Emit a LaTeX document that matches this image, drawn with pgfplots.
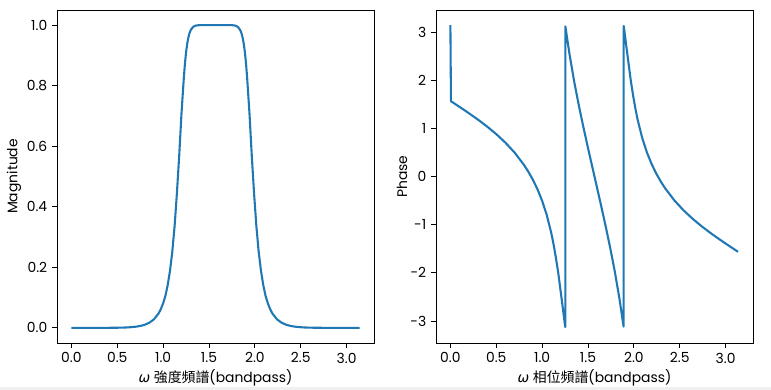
\documentclass[border=0pt]{standalone}
\usepackage{fontspec}
\setmainfont{Poppins}
\newfontfamily\cjk{Noto Sans CJK TC}
\newfontfamily\dvs{DejaVu Sans}
\usepackage{pgfplots}
\pgfplotsset{compat=1.18}
\definecolor{c0}{HTML}{1F77B4}
\begin{document}
\fontsize{10}{12}\selectfont
\begin{tikzpicture}
\pgfplotsset{
  myax/.style={
    scale only axis, width=228.24pt, height=239.76pt, anchor=south west,
    axis line style={black, line width=0.6pt},
    tick align=outside, tick pos=left, major tick length=3.5pt,
    every tick/.style={black, line width=0.6pt},
    /pgf/number format/assume math mode=true,
    xmin=-0.157, xmax=3.299,
    xtick={0,0.5,1,1.5,2,2.5,3},
    x tick label style={/pgf/number format/.cd, fixed, fixed zerofill, precision=1},
    tick label style={font=\fontsize{10}{12}\selectfont},
    label style={font=\fontsize{10}{12}\selectfont},
    xlabel style={at={(axis description cs:0.5,-0.12)}, anchor=base},
  }
}
\useasboundingbox (0,0) rectangle (555.12pt,280.8pt);
\fill[black!6] (0,0) rectangle (555.12pt,2.16pt);
\begin{axis}[myax, at={(41.04pt,33.84pt)},
  ymin=-0.05, ymax=1.05, ytick={0,0.2,0.4,0.6,0.8,1.0},
  y tick label style={/pgf/number format/.cd, fixed, fixed zerofill, precision=1},
  ylabel={Magnitude},
  ylabel style={at={(axis description cs:-0.136,0.5)}, anchor=center},
  xlabel={{\dvs\itshape ω} {\cjk 強度頻譜}(bandpass)}]
\addplot[c0, line width=1.5pt, line join=round] coordinates {
(0.0000,0.0000) (0.1000,0.0000) (0.3000,0.0000) (0.5000,0.0004) (0.6000,0.0013)
(0.6500,0.0023) (0.7000,0.0038) (0.7500,0.0062) (0.8000,0.0103) (0.8500,0.0170)
(0.9000,0.0282) (0.9500,0.0474) (0.9750,0.0619)
(1.0000,0.0811) (1.0250,0.1058) (1.0500,0.1415) (1.0750,0.1886) (1.1000,0.2516)
(1.1250,0.3357) (1.1500,0.4436) (1.1750,0.5676) (1.2000,0.7071) (1.2250,0.8232)
(1.2375,0.8718) (1.2500,0.9099) (1.2625,0.9384) (1.2750,0.9590) (1.2875,0.9735)
(1.3000,0.9832) (1.3250,0.9938) (1.3500,0.9980) (1.3750,0.9994) (1.4000,0.9999)
(1.5708,1.0000)
(1.7416,0.9999) (1.7666,0.9994) (1.7916,0.9980) (1.8166,0.9938) (1.8416,0.9832)
(1.8541,0.9735) (1.8666,0.9590) (1.8791,0.9384) (1.8916,0.9099) (1.9041,0.8718)
(1.9166,0.8232) (1.9416,0.7071) (1.9666,0.5676) (1.9916,0.4436) (2.0166,0.3357)
(2.0416,0.2516) (2.0666,0.1886) (2.0916,0.1415) (2.1166,0.1058) (2.1416,0.0811)
(2.1666,0.0619) (2.1916,0.0474) (2.2416,0.0282) (2.2916,0.0170) (2.3416,0.0103)
(2.3916,0.0062) (2.4416,0.0038) (2.4916,0.0023)
(2.5416,0.0013) (2.6416,0.0004) (2.8416,0.0000) (3.0416,0.0000) (3.1416,0.0000)
};
\end{axis}
\begin{axis}[myax, at={(313.92pt,33.84pt)},
  ymin=-3.456, ymax=3.456, ytick={-3,-2,-1,0,1,2,3},
  ylabel={Phase},
  ylabel style={at={(axis description cs:-0.107,0.5)}, anchor=center},
  xlabel={{\dvs\itshape ω} {\cjk 相位頻譜}(bandpass)}]
\addplot[c0, line width=1.5pt, line join=round] coordinates {
(0.0000,3.1416) (0.0061,1.5630) (0.1000,1.4445) (0.2000,1.3156) (0.3000,1.1809)
(0.4000,1.0371) (0.5000,0.8794) (0.6000,0.7021) (0.7000,0.4960) (0.8000,0.2465)
(0.8500,0.0987) (0.9000,-0.0702) (0.9500,-0.2679) (1.0000,-0.5043) (1.0500,-0.7965)
(1.1000,-1.1751) (1.1250,-1.4102) (1.1500,-1.6857) (1.1750,-1.9908) (1.2000,-2.3562)
(1.2250,-2.7212) (1.2500,-3.0983) (1.2525,-3.1250) (1.2535,3.1150) (1.2750,2.8378)
(1.3000,2.5207) (1.3500,1.9655) (1.4000,1.4758) (1.4500,1.0234) (1.5000,0.5928)
(1.5708,0.0000) (1.6416,-0.5928) (1.6916,-1.0234) (1.7416,-1.4758) (1.7916,-1.9655)
(1.8416,-2.5207) (1.8666,-2.8378) (1.8881,-3.1150) (1.8891,3.1250) (1.8916,3.0983)
(1.9166,2.7212) (1.9416,2.3562) (1.9666,1.9908) (1.9916,1.6857) (2.0166,1.4102)
(2.0416,1.1751) (2.0916,0.7965) (2.1416,0.5043) (2.1916,0.2679) (2.2416,0.0702)
(2.2916,-0.0987) (2.3416,-0.2465) (2.4416,-0.4960) (2.5416,-0.7021) (2.6416,-0.8794)
(2.7416,-1.0371) (2.8416,-1.1809) (2.9416,-1.3156) (3.0416,-1.4445) (3.1355,-1.5630)
};
\end{axis}
\end{tikzpicture}
\end{document}
